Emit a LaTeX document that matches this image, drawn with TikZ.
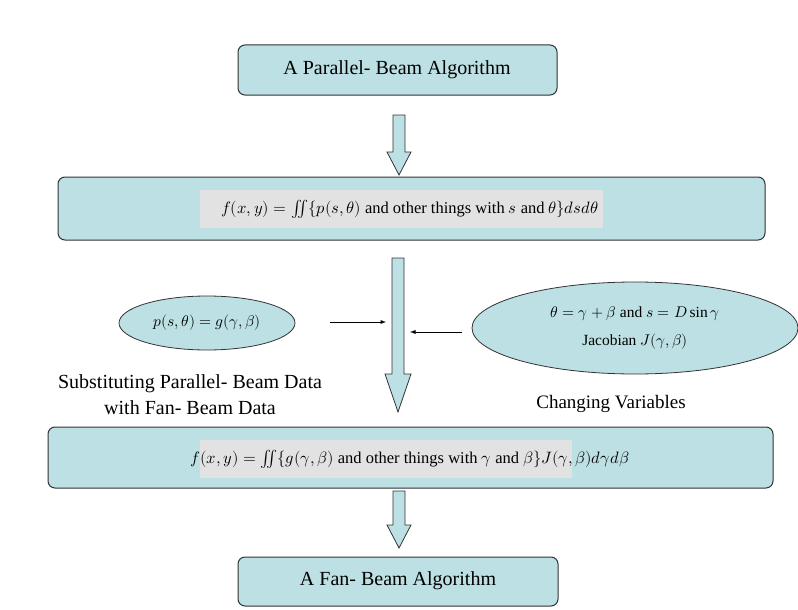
\documentclass[tikz,border=0pt]{standalone}
\usepackage{fontspec}
\setmainfont{Liberation Serif}
\usepackage{unicode-math}
\setmathfont{Latin Modern Math}
\usetikzlibrary{shapes.geometric}
\definecolor{teal1}{RGB}{188,224,228}
\definecolor{hl}{RGB}{226,226,226}
\begin{document}
\begin{tikzpicture}[x=1pt,y=-1pt,font=\fontsize{20}{24}\selectfont,
  box/.style={draw=black!80,line width=1pt,fill=teal1,rounded corners=7pt},
  ell/.style={draw=black!80,line width=0.8pt,fill=teal1,ellipse},
  hollow/.style={draw=black!80,line width=0.8pt,fill=teal1},
  lab/.style={inner sep=0pt},
  fml/.style={inner sep=0pt,font=\fontsize{16.5}{20}\selectfont}]
\useasboundingbox (0,0) rectangle (798,610);
\draw[box] (238,45) rectangle (557,95);
\node[lab] (t1) at (397,70) {A Parallel- Beam Algorithm};
\draw[hollow] (393,115) -- (405,115) -- (405,152) -- (411,152) -- (399,175) -- (387,152) -- (393,152) -- cycle;
\draw[box] (58,177) rectangle (765,240);
\fill[hl] (200,190) rectangle (603,228);
\node[fml] (t2) at (410,209) {$f(x,y)=\iint\{p(s,\theta)$ and other things with $s$ and $\theta\}dsd\theta$};
\draw[hollow] (392,258) -- (404,258) -- (404,374) -- (411,374) -- (398,412) -- (385,374) -- (392,374) -- cycle;
\node[ell,font=\fontsize{15.5}{19}\selectfont,minimum width=176pt,minimum height=54pt,inner sep=0pt] (e1) at (207,323) {$p(s,\theta)=g(\gamma,\beta)$};
\node[ell,font=\fontsize{15.5}{19}\selectfont,minimum width=326pt,minimum height=92pt,inner sep=0pt,align=center] (e2) at (635,328) {$\theta=\gamma+\beta$ and $s=D\sin\gamma$\\[9pt] Jacobian $J(\gamma,\beta)$};
\coordinate (a1) at (330,322); \coordinate (b1) at (386,322);
\coordinate (a2) at (462,332); \coordinate (b2) at (410,332);
\draw[-latex,line width=0.9pt] (a1) -- (b1);
\draw[-latex,line width=0.9pt] (a2) -- (b2);
\node[lab,align=center,font=\fontsize{20}{26}\selectfont] (s1) at (190,395) {Substituting Parallel- Beam Data\\with Fan- Beam Data};
\node[lab,font=\fontsize{19}{22}\selectfont] (s2) at (611,404) {Changing Variables};
\draw[box] (48,427) rectangle (773,488);
\fill[hl] (200,440) rectangle (572,478);
\node[fml] (t3) at (410,459) {$f(x,y)=\iint\{g(\gamma,\beta)$ and other things with $\gamma$ and $\beta\}J(\gamma,\beta)d\gamma d\beta$};
\draw[hollow] (393,491) -- (405,491) -- (405,525) -- (411,525) -- (399,548) -- (387,525) -- (393,525) -- cycle;
\draw[box] (238,557) rectangle (558,606);
\node[lab] (t4) at (398,581) {A Fan- Beam Algorithm};
\end{tikzpicture}
\end{document}
